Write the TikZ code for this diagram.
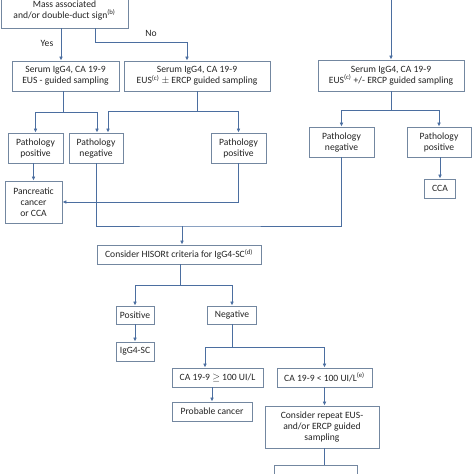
\documentclass[tikz,border=0pt]{standalone}
\usepackage{fontspec}
\setmainfont{Carlito}
\usetikzlibrary{arrows.meta}
\definecolor{boxgray}{RGB}{115,135,160}
\definecolor{flowblue}{RGB}{75,110,160}
\definecolor{inkgray}{RGB}{35,35,35}

\begin{document}
\begin{tikzpicture}[x=1pt,y=-1pt,font=\fontsize{9.6}{11}\selectfont]
        \tikzstyle{every node}=[draw=boxgray,line width=0.9pt,text=inkgray,align=center,inner sep=0pt]
        \tikzstyle{link}=[flowblue,line width=1pt]
        \tikzstyle{arr}=[link,-{Latex[length=4pt,width=3.8pt]}]
        \tikzstyle{lbl}=[draw=none]
        \useasboundingbox (0,0) rectangle (474,474);
        \clip (0,0) rectangle (474,474);
        % boxes
        \node[minimum width=127pt,minimum height=36pt] (mass) at (64.5,10) {Mass associated\\and/or double-duct sign\textsuperscript{(b)}};
        \node[minimum width=107pt,minimum height=30pt] (serA) at (65.5,76) {Serum IgG4, CA 19-9\\EUS - guided sampling};
        \node[minimum width=146pt,minimum height=30pt] (serB) at (197,76) {Serum IgG4, CA 19-9\\EUS\textsuperscript{(c)} $\pm$ ERCP guided sampling};
        \node[minimum width=146pt,minimum height=31pt] (serC) at (391,75.5) {Serum IgG4, CA 19-9\\EUS\textsuperscript{(c)} +/- ERCP guided sampling};
        \node[minimum width=55pt,minimum height=30pt] (ppA) at (35.5,148) {Pathology\\positive};
        \node[minimum width=54pt,minimum height=30pt] (pnA) at (96,148) {Pathology\\negative};
        \node[minimum width=55pt,minimum height=30pt] (ppB) at (238.5,148) {Pathology\\positive};
        \node[minimum width=65pt,minimum height=30pt] (pnC) at (341.5,142) {Pathology\\negative};
        \node[minimum width=64pt,minimum height=30pt] (ppC) at (439,142) {Pathology\\positive};
        \node[minimum width=31pt,minimum height=19pt] (cca) at (440,188.5) {CCA};
        \node[minimum width=57pt,minimum height=42pt] (panc) at (33.5,202) {Pancreatic\\cancer\\or CCA};
        \node[minimum width=164pt,minimum height=19pt] (hisort) at (179,254.5) {Consider HISORt criteria for IgG4-SC\textsuperscript{(d)}};
        \node[minimum width=38pt,minimum height=18pt] (pos) at (135,315) {Positive};
        \node[minimum width=38pt,minimum height=19pt] (igg) at (135,351.5) {IgG4-SC};
        \node[minimum width=49pt,minimum height=18pt] (neg) at (232,315) {Negative};
        \node[minimum width=91pt,minimum height=19pt] (caHi) at (217.5,377.5) {CA 19-9 $\geq$ 100 UI/L};
        \node[minimum width=80pt,minimum height=19pt] (prob) at (212,411.5) {Probable cancer};
        \node[minimum width=95pt,minimum height=19pt] (caLo) at (324.5,377.5) {CA 19-9 \textless{} 100 UI/L\textsuperscript{(e)}};
        \node[minimum width=114pt,minimum height=42pt] (rep) at (322,427) {Consider repeat EUS-\\and/or ERCP guided\\sampling};
        \node[minimum width=83pt,minimum height=30pt] (last) at (315.5,480) {};
        % labels
        \node[lbl] (yesl) at (47,43) {Yes};
        \node[lbl] (nol) at (151,33) {No};
        % junctions
        \coordinate (yes) at ([xshift=-3.5pt]mass.south);
        \coordinate (no) at ([xshift=30.5pt]mass.south);
        \coordinate (jNo) at (95,42);
        \coordinate (jA) at (63,112);
        \coordinate (jB) at (197,111);
        \coordinate (top) at (391,-5);
        \coordinate (jC) at (391,110);
        \coordinate (jH) at (182,226);
        \coordinate (jP) at (180,285);
        \coordinate (jN) at (232,347);
        % connectors
        \draw[arr] (yes) -- (yes |- serA.north);
        \draw[arr] (no) -- (jNo) -| ([xshift=-10pt]serB.north);
        \draw[link] (jA |- serA.south) -- (jA);
        \draw[arr] (jA) -| (ppA.north);
        \draw[arr] (jA) -| ([xshift=1pt]pnA.north);
        \draw[link] (serB.south) -- (jB);
        \draw[arr] (jB) -| ([xshift=12pt]pnA.north);
        \draw[arr] (jB) -| (ppB.north);
        \draw[arr] (top) -- (serC.north);
        \draw[link] (serC.south) -- (jC);
        \draw[arr] (jC) -| (pnC.north);
        \draw[arr] (jC) -| (ppC.north);
        \draw[arr] (cca.north |- ppC.south) -- (cca.north);
        \draw[arr] (panc.north |- ppA.south) -- (panc.north);
        \draw[arr] (ppB.south) |- (panc.east);
        \draw[link] (pnA.south) |- (jH) -| (pnC.south);
        \draw[arr] (jH) -- (jH |- hisort.north);
        \draw[link] (jP |- hisort.south) -- (jP);
        \draw[arr] (jP) -| (pos.north);
        \draw[arr] (jP) -| (neg.north);
        \draw[arr] (pos.south) -- (igg.north);
        \draw[link] (neg.south) -- (jN);
        \draw[arr] (jN) -| ([xshift=-12.5pt]caHi.north);
        \draw[arr] (jN) -| (caLo.north);
        \draw[arr] (prob.north |- caHi.south) -- (prob.north);
        \draw[arr] (caLo.south) -- (caLo.south |- rep.north);
        \draw[link] (caLo.south |- rep.south) -- (caLo.south |- last.north);
\end{tikzpicture}
\end{document}
